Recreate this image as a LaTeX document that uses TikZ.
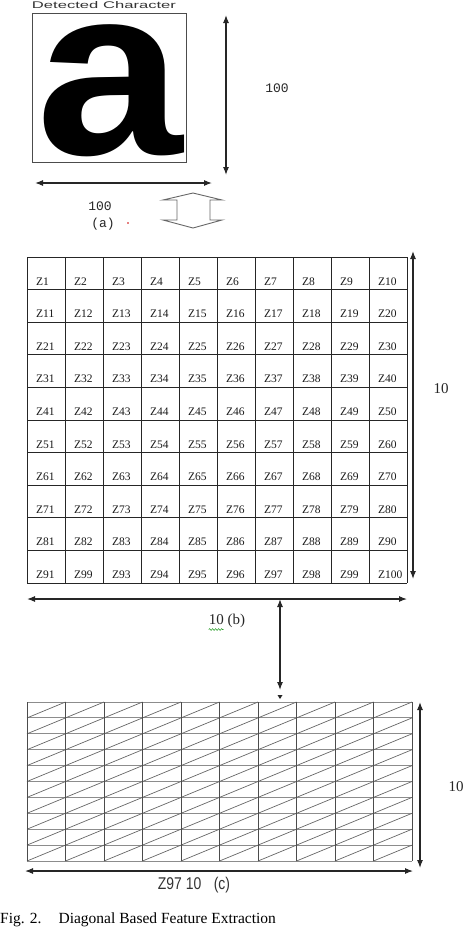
\documentclass[tikz,border=0pt]{standalone}
\usepackage{fontspec}
\setmainfont{Liberation Serif}
\newfontfamily\arialf{Liberation Sans}
\newfontfamily\courf{Liberation Mono}
\usetikzlibrary{arrows.meta,decorations.pathmorphing}
\begin{document}
\begin{tikzpicture}[x=1pt,y=-1pt,
  dimarrow/.style={line width=1.1pt, draw=black!85, {Latex[length=8pt,width=6pt]}-{Latex[length=8pt,width=6pt]}},
  zlab/.style={anchor=base west, inner sep=0pt, font=\fontsize{11.5}{11.5}\selectfont, text=black!90},
  gridb/.style={line width=1pt, draw=black!85},
  hatchh/.style={line width=0.9pt, draw=black!45},
  hatchv/.style={line width=1pt, draw=black!70},
  hatchd/.style={line width=0.7pt, draw=black!60},
  numlab/.style={inner sep=0pt, font=\fontsize{15}{15}\selectfont, text=black!85},
  monolab/.style={inner sep=0pt, text height=8pt, text depth=0pt, font=\courf\fontsize{13}{13}\selectfont, text=black!85}]
\useasboundingbox (0,0) rectangle (474,929);

% ---- (a) detected character ----
\node[inner sep=0pt, text=black!80] (title) at (104,5) {\resizebox{144pt}{7pt}{\arialf Detected Character}};
\node[draw=black!70, line width=0.9pt, minimum width=154pt, minimum height=149pt, inner sep=0pt] (box) at (109,87.5) {};
\node[inner sep=0pt] (letter) at (110,91) {\resizebox*{146pt}{132pt}{\arialf\bfseries a}};

\coordinate (vt) at (226,15);
\coordinate (vb) at (226,175);
\draw[dimarrow] (vt) -- (vb);
\node[monolab] (h100) at (277,88) {100};

\coordinate (hl) at (35,183);
\coordinate (hr) at (212,183);
\draw[dimarrow] (hl) -- (hr);
\node[monolab] (w100) at (100,206) {100};
\node[monolab] (alab) at (103,223) {(a)};
\fill[red!80!black] (128,223) circle (0.9pt);

% hollow double arrow
\draw[line width=0.9pt, draw=black!60] (163,200) -- (193,193) -- (222,200) -- (210,200) -- (210,220) -- (222,220) -- (193,228) -- (163,220) -- (177,220) -- (177,200) -- cycle;

% ---- (b) 10x10 zone grid ----
\foreach \i in {0,...,10} {
  \draw[gridb] (27,{257+32.6*\i}) -- (407,{257+32.6*\i});
  \draw[gridb] ({27+38*\i},257) -- ({27+38*\i},583);
}
\foreach \r in {0,...,9} {
  \foreach \c in {0,...,9} {
    \pgfmathtruncatemacro{\n}{10*\r+\c+1}
    \ifnum\n=92 \def\lab{Z99}\else \edef\lab{Z\n}\fi
    \node[zlab] (z\n) at ({27+38*\c+9},{257+32.6*\r+28}) {\lab};
  }
}

\coordinate (gvt) at (413,251);
\coordinate (gvb) at (413,579);
\draw[dimarrow] (gvt) -- (gvb);
\node[numlab] (g10) at (441,389) {10};

\coordinate (ghl) at (27,599);
\coordinate (ghr) at (407,599);
\draw[dimarrow] (ghl) -- (ghr);
\node[numlab] (blab) at (227,621) {10 (b)};
\draw[green!55!black, line width=0.5pt, decorate, decoration={snake, amplitude=0.8pt, segment length=3pt}] (blab.south west) ++(0,1.5) -- ++(15,0);

\coordinate (mt) at (280,599);
\coordinate (mb) at (280,690);
\draw[dimarrow] (mt) -- (mb);
\fill[black!85] (277.5,695) -- (282.5,695) -- (280,699) -- cycle;

% ---- (c) diagonal zone ----
\foreach \i in {0,...,10} {
  \draw[hatchh] (27,{702+15.9*\i}) -- (412,{702+15.9*\i});
}
\foreach \r in {0,...,9} {
  \foreach \c in {0,...,9} {
    \draw[hatchd] ({27+38.5*\c},{702+15.9*(\r+1)}) -- ({27+38.5*(\c+1)},{702+15.9*\r});
  }
}
\foreach \i in {0,...,10} {
  \draw[hatchv] ({27+38.5*\i},702) -- ({27+38.5*\i},861);
}

\coordinate (cvt) at (420,702);
\coordinate (cvb) at (420,868);
\draw[dimarrow] (cvt) -- (cvb);
\node[numlab] (c10) at (456,787) {10};

\coordinate (chl) at (25,871);
\coordinate (chr) at (413,871);
\draw[dimarrow] (chl) -- (chr);
\node[inner sep=0pt, text=black!80] (clab) at (194,885) {\scalebox{0.82}[1]{\arialf\fontsize{17}{17}\selectfont Z97 10\hspace{0.9em}(c)}};

% caption
\node[anchor=west, inner sep=0pt, font=\fontsize{15.5}{15.5}\selectfont] (cap) at (0,920) {Fig. 2.\hspace{1.1em}Diagonal Based Feature Extraction};
\end{tikzpicture}
\end{document}
